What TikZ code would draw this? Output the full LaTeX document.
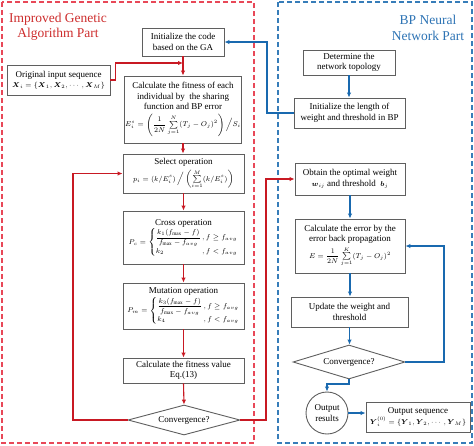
\documentclass[tikz,border=0pt]{standalone}
\usepackage{amsmath}
\usepackage{fontspec}
\setmainfont{Liberation Serif}
\usetikzlibrary{arrows.meta,shapes.geometric}
\definecolor{framered}{RGB}{232,72,88}
\definecolor{titlered}{RGB}{205,45,45}
\definecolor{arrred}{RGB}{200,25,35}
\definecolor{frameblue}{RGB}{55,125,185}
\definecolor{titleblue}{RGB}{45,115,180}
\definecolor{arrblue}{RGB}{25,105,175}
\definecolor{boxgray}{RGB}{95,95,95}
\newcommand{\fmsize}{\fontsize{7.5}{8.5}\selectfont}
\begin{document}
\begin{tikzpicture}[x=1pt,y=-1pt,
  box/.style={draw=boxgray, line width=0.9pt, fill=white, align=center, inner sep=1pt,
    font=\fontsize{9}{10.5}\selectfont},
  decision/.style={diamond, draw=boxgray, line width=0.9pt, fill=white, inner sep=0pt,
    font=\fontsize{9}{10.5}\selectfont},
  ra/.style={draw=arrred, line width=1.1pt, -{Latex[length=5pt,width=4.5pt]}},
  ba/.style={draw=arrblue, line width=1.1pt, -{Latex[length=5pt,width=4.5pt]}},
  frame/.style={line width=1.5pt, dash pattern=on 5pt off 3pt},
  ttl/.style={align=center, font=\fontsize{13.5}{15.5}\selectfont}
]
\useasboundingbox (0,0) rectangle (474,445);
% frames
\draw[frame, framered] (2,2) rectangle (254,443);
\draw[frame, frameblue] (278,2) rectangle (472,443);
\node[ttl, text=titlered] (t1) at (58,27) {Improved Genetic\\Algorithm Part};
\node[ttl, text=titleblue] (t2) at (428,28) {BP Neural\\Network Part};

% left column
\node[box, minimum width=82pt, minimum height=28pt] (init) at (183,42) {Initialize the code\\based on the GA};
\node[box, minimum width=103pt, minimum height=30pt] (input) at (58.5,80)
  {Original input sequence\\ {\fmsize $\boldsymbol{X}_i=\left\{\boldsymbol{X}_1,\boldsymbol{X}_2,\cdots,\boldsymbol{X}_M\right\}$}};
\node[box, minimum width=114pt, minimum height=67pt] (fit) at (183,109.5)
  {Calculate the fitness of each\\individual by \ the sharing\\function and BP error\\[3pt]
   {\fmsize $E_i^s=\left(\dfrac{1}{2N}\sum\limits_{j=1}^{N}(T_j-O_j)^2\right)\Big/S_i$}};
\node[box, minimum width=121pt, minimum height=39pt] (sel) at (183.5,173.5)
  {Select operation\\[2pt] {\fmsize $p_i=\left(k/E_i^s\right)\Big/\left(\sum\limits_{i=1}^{M}(k/E_i^s)\right)$}};
\node[box, minimum width=121pt, minimum height=53pt] (cross) at (183.5,237.5)
  {Cross operation\\[1pt] {\fmsize $P_c=\left\{\begin{array}{@{}l@{\,}l@{}}\dfrac{k_1(f_{\max}-f)}{f_{\max}-f_{avg}} & ,f\ge f_{avg}\\[5pt] k_2 & ,f<f_{avg}\end{array}\right.$}};
\node[box, minimum width=121pt, minimum height=46pt] (mut) at (183.5,306)
  {Mutation operation\\[1pt] {\fmsize $P_m=\left\{\begin{array}{@{}l@{\,}l@{}}\dfrac{k_3(f_{\max}-f)}{f_{\max}-f_{avg}} & ,f\ge f_{avg}\\[3pt] k_4 & ,f<f_{avg}\end{array}\right.$}};
\node[box, minimum width=121pt, minimum height=25pt] (fitval) at (183.5,370.5)
  {Calculate the fitness value\\Eq.(13)};
\node[decision, minimum width=112pt, minimum height=30pt, aspect=3.7] (conv) at (184,420) {Convergence?};

% right column
\node[box, minimum width=92pt, minimum height=25pt] (topo) at (349,62.5) {Determine the\\network topology};
\node[box, minimum width=111pt, minimum height=30pt] (initlen) at (349.5,113) {Initialize the length of\\weight and threshold in BP};
\node[box, minimum width=110pt, minimum height=32pt] (obtain) at (350,179)
  {Obtain the optimal weight\\ {\fmsize $\boldsymbol{w}_{ij}$} and threshold \ {\fmsize $\boldsymbol{b}_j$}};
\node[box, minimum width=110pt, minimum height=54pt] (calcerr) at (350,246)
  {Calculate the error by the\\error back propagation\\[2pt] {\fmsize $E=\dfrac{1}{2N}\sum\limits_{j=1}^{K}(T_j-O_j)^2$}};
\node[box, minimum width=117pt, minimum height=30pt] (update) at (349.5,312) {Update the weight and\\threshold};
\node[decision, minimum width=112pt, minimum height=34pt, aspect=3.3] (conv2) at (349,362) {Convergence?};
\node[circle, draw=boxgray, line width=0.9pt, fill=white, minimum size=42pt, inner sep=0pt,
  align=center, font=\fontsize{9}{10.5}\selectfont] (outres) at (327,413) {Output\\results};
\node[box, minimum width=104pt, minimum height=30pt] (outseq) at (418,417)
  {Output sequence\\ {\fmsize $\boldsymbol{Y}_i^{(0)}=\left\{\boldsymbol{Y}_1,\boldsymbol{Y}_2,\cdots,\boldsymbol{Y}_M\right\}$}};

% coordinates for bends
\coordinate (j1) at (183,63);
\coordinate (l1) at (73,420);
\coordinate (r1) at (266,420);
\coordinate (b1) at (267,113);
\coordinate (b2) at (444,362);
\coordinate (b3) at (349,384);

% red connectors
\draw[ra] (init.south) -- (fit.north);
\draw[ra] (input.east) -- ++(5,0) |- (j1);
\draw[ra] (fit.south) -- (fit.south |- sel.north);
\draw[ra] (sel.south) -- (cross.north);
\draw[ra] (cross.south) -- (mut.north);
\draw[ra] (mut.south) -- (fitval.north);
\draw[ra] (fitval.south) -- (conv.north);
\draw[ra] (conv.west) -- (l1) |- (sel.west);
\draw[ra] (conv.east) -- (r1) |- (obtain.west);

% blue connectors
\draw[ba] (topo.south) -- (topo.south |- initlen.north);
\draw[ba] (initlen.west) -- (b1) |- (init.east);
\draw[ba] (obtain.south) -- (calcerr.north);
\draw[ba] (calcerr.south) -- (calcerr.south |- update.north);
\draw[ba] (update.south) -- (update.south |- conv2.north);
\draw[ba] (conv2.east) -- (b2) |- (calcerr.east);
\draw[ba] (conv2.south) -- (b3) -| (outres.north);
\draw[ba] (outres.east) -- (outres.east -| outseq.west);
\end{tikzpicture}
\end{document}
